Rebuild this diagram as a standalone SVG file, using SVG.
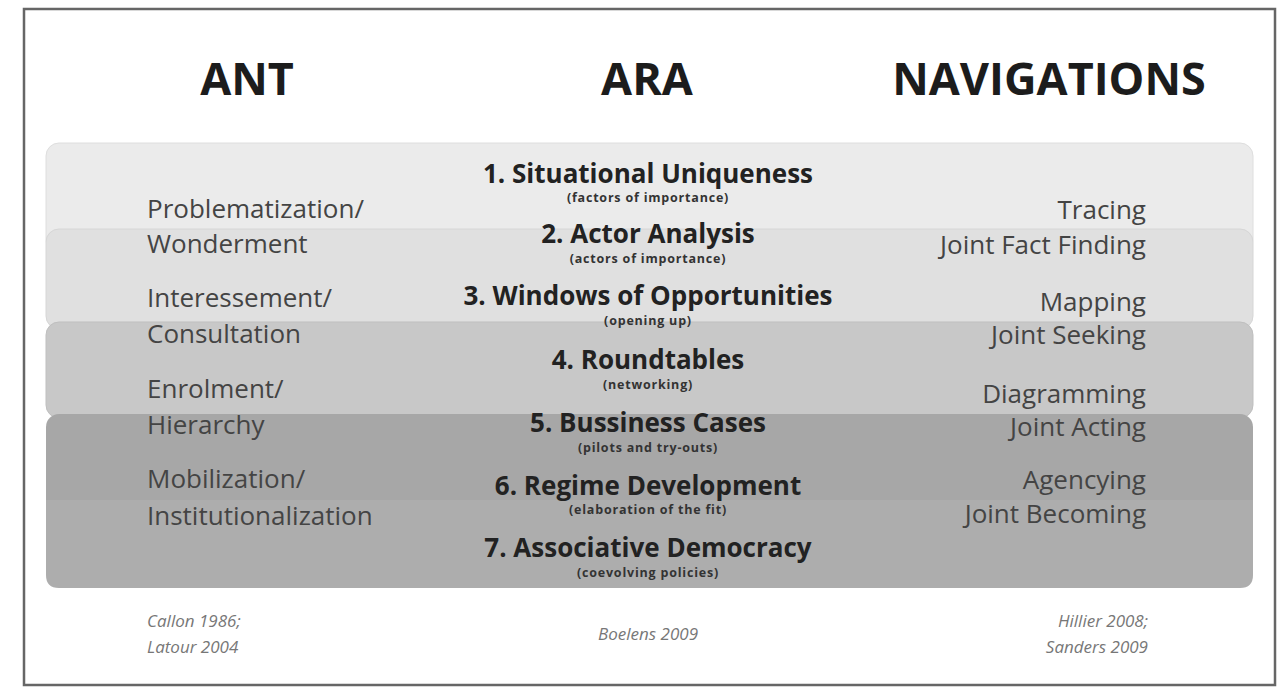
<svg xmlns="http://www.w3.org/2000/svg" width="1288" height="696" viewBox="0 0 1288 696">
<style>
.head{font-family:"Open Sans","DejaVu Sans",sans-serif;font-weight:bold;font-size:45px;fill:#1c1c1c;text-anchor:middle}
.side{font-family:"Open Sans","DejaVu Sans",sans-serif;font-size:26px;fill:#444}
.r{text-anchor:end}
.ttl{font-family:"Open Sans","DejaVu Sans",sans-serif;font-weight:bold;font-size:26px;fill:#222;text-anchor:middle}
.sub{font-family:"Open Sans","DejaVu Sans",sans-serif;font-weight:bold;font-size:12.5px;letter-spacing:0.8px;fill:#333;text-anchor:middle}
.cite{font-family:"Open Sans","DejaVu Sans",sans-serif;font-style:italic;font-size:17px;fill:#777}
</style>
<rect x="0" y="0" width="1288" height="696" fill="#ffffff"/>
<rect x="24" y="9" width="1251" height="676" fill="#ffffff" stroke="#666666" stroke-width="2.5"/>
<g id="bands">
<rect x="46" y="143" width="1207" height="110" rx="13" fill="#ebebeb" stroke="#dedede" stroke-width="1"/>
<rect x="46" y="229" width="1207" height="100" rx="13" fill="#e0e0e0" stroke="#d6d6d6" stroke-width="1"/>
<rect x="46" y="322" width="1207" height="96" rx="13" fill="#c8c8c8" stroke="#bfbfbf" stroke-width="1"/>
<rect x="46" y="414" width="1207" height="100" rx="13" fill="#a7a7a7"/>
<path d="M46 500 H1253 V575 Q1253 588 1240 588 H59 Q46 588 46 575 Z" fill="#adadad"/>
</g>
<g id="headers">
<text class="head" x="247" y="95">ANT</text>
<text class="head" x="647" y="95">ARA</text>
<text class="head" x="1049" y="95">NAVIGATIONS</text>
</g>
<g id="ant">
<text class="side" x="147" y="218">Problematization/</text>
<text class="side" x="147" y="253">Wonderment</text>
<text class="side" x="147" y="307">Interessement/</text>
<text class="side" x="147" y="343">Consultation</text>
<text class="side" x="147" y="398">Enrolment/</text>
<text class="side" x="147" y="434">Hierarchy</text>
<text class="side" x="147" y="488">Mobilization/</text>
<text class="side" x="147" y="525">Institutionalization</text>
</g>
<g id="ara">
<text class="ttl" x="648" y="183">1. Situational Uniqueness</text>
<text class="sub" x="648" y="202">(factors of importance)</text>
<text class="ttl" x="648" y="243">2. Actor Analysis</text>
<text class="sub" x="648" y="263">(actors of importance)</text>
<text class="ttl" x="648" y="305">3. Windows of Opportunities</text>
<text class="sub" x="648" y="325">(opening up)</text>
<text class="ttl" x="648" y="369">4. Roundtables</text>
<text class="sub" x="648" y="389">(networking)</text>
<text class="ttl" x="648" y="432">5. Bussiness Cases</text>
<text class="sub" x="648" y="452">(pilots and try-outs)</text>
<text class="ttl" x="648" y="495">6. Regime Development</text>
<text class="sub" x="648" y="514">(elaboration of the fit)</text>
<text class="ttl" x="648" y="557">7. Associative Democracy</text>
<text class="sub" x="648" y="577">(coevolving policies)</text>
</g>
<g id="navigations">
<text class="side r" x="1146" y="219">Tracing</text>
<text class="side r" x="1146" y="254">Joint Fact Finding</text>
<text class="side r" x="1146" y="311">Mapping</text>
<text class="side r" x="1146" y="344">Joint Seeking</text>
<text class="side r" x="1146" y="403">Diagramming</text>
<text class="side r" x="1146" y="436">Joint Acting</text>
<text class="side r" x="1146" y="489">Agencying</text>
<text class="side r" x="1146" y="523">Joint Becoming</text>
</g>
<g id="citations">
<text class="cite" x="147" y="627">Callon 1986;</text>
<text class="cite" x="147" y="653">Latour 2004</text>
<text class="cite" x="648" y="640" text-anchor="middle">Boelens 2009</text>
<text class="cite r" x="1148" y="627">Hillier 2008;</text>
<text class="cite r" x="1148" y="653">Sanders 2009</text>
</g>
</svg>
